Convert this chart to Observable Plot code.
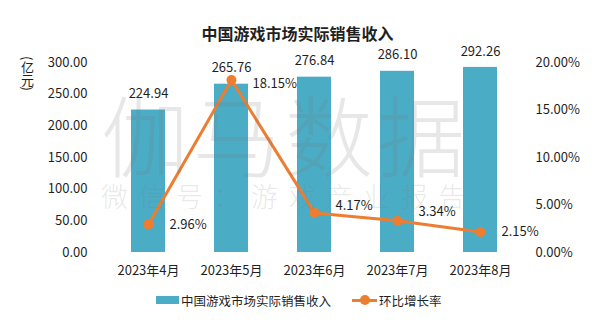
<!DOCTYPE html>
<html>
<head>
<meta charset="utf-8">
<script src="https://cdn.jsdelivr.net/npm/d3@7"></script>
<script src="https://cdn.jsdelivr.net/npm/@observablehq/plot@0.6"></script>
<style>
  html, body { margin: 0; padding: 0; background: #fff; }
  #wrap { position: relative; width: 597px; height: 329px; overflow: hidden;
          font-family: "Noto Sans CJK SC", "Noto Sans", sans-serif; color: #1f1f1f; }
  #title { position: absolute; left: 0; width: 595px; top: 23px; line-height: 20px;
           text-align: center; font-size: 16px; font-weight: bold; }
  #ylabel { position: absolute; left: 19px; top: 56px; writing-mode: vertical-rl;
            font-size: 13px; line-height: 16px; }
  #chart { position: absolute; left: 0; top: 35px; }
  .wm { position: absolute; white-space: nowrap; color: rgba(120,120,120,0.18);
        font-weight: 300; pointer-events: none; }
  #wm1 { left: 101px; top: 82px; font-size: 88px; line-height: 100px; letter-spacing: 4px; }
  #wm2 { left: 101px; top: 180px; font-size: 27px; line-height: 32px; letter-spacing: 10.5px; }
  #legend { position: absolute; top: 292px; left: 156px; height: 16px; display: flex;
            align-items: center; font-size: 12.5px; white-space: nowrap; }
  .sw-bar { width: 23px; height: 8px; background: #4BACC6; margin-right: 2px; }
  .sw-line { position: relative; width: 25px; height: 10px; margin-left: 21px; margin-right: 2px; }
  .sw-line::before { content: ""; position: absolute; left: 0; right: 0; top: 3.5px; height: 3px; background: #ED7D31; }
  .sw-line::after { content: ""; position: absolute; left: 7.5px; top: 0; width: 10px; height: 10px; border-radius: 50%; background: #ED7D31; }
</style>
</head>
<body>
<div id="wrap">
  <div id="title"></div>
  <div id="ylabel"></div>
  <div id="chart"></div>
  <div id="wm1" class="wm">伽马数据</div>
  <div id="wm2" class="wm">微信号：游戏产业报告</div>
  <div id="legend"></div>
</div>
<script>
// ---- data ----
const titleText = "中国游戏市场实际销售收入";
const yUnit = "(亿元)";
const months = ["2023年4月", "2023年5月", "2023年6月", "2023年7月", "2023年8月"];
const revenue = [224.94, 265.76, 276.84, 286.10, 292.26];
const growth = [2.96, 18.15, 4.17, 3.34, 2.15];
const leftTicks = [0, 50, 100, 150, 200, 250, 300];
const rightTicks = [0, 5, 10, 15, 20];
const seriesNames = ["中国游戏市场实际销售收入", "环比增长率"];

// ---- styling ----
const barColor = "#4BACC6";
const lineColor = "#ED7D31";
const textColor = "#1f1f1f";
const labelDy = [0, 4, -7, -9, 0];

document.getElementById("title").textContent = titleText;
document.getElementById("ylabel").textContent = yUnit;
document.getElementById("legend").innerHTML =
  `<div class="sw-bar"></div><span>${seriesNames[0]}</span><div class="sw-line"></div><span>${seriesNames[1]}</span>`;

const rows = months.map((m, i) => ({month: m, revenue: revenue[i], growth: growth[i]}));
// secondary axis: 0–20% mapped onto the 0–300 revenue domain
const y2 = d3.scaleLinear([0, 20], [0, 300]);

const chart = Plot.plot({
  width: 597,
  height: 255,
  marginTop: 27,
  marginBottom: 38,
  marginLeft: 104,
  marginRight: 74,
  style: {fontFamily: '"Noto Sans CJK SC", "Noto Sans", sans-serif', fontSize: "13px", color: textColor, background: "transparent"},
  x: {domain: months, range: [130, 498], paddingInner: 0.593, paddingOuter: 0, label: null},
  y: {domain: [0, 300], label: null},
  marks: [
    Plot.barY(rows, {x: "month", y: "revenue", fill: barColor}),
    Plot.text(rows, {x: "month", y: "revenue", text: d => d.revenue.toFixed(2), dy: -16, fill: textColor, fontSize: 13}),
    Plot.line(rows, {x: "month", y: d => y2(d.growth), stroke: lineColor, strokeWidth: 3}),
    Plot.dot(rows, {x: "month", y: d => y2(d.growth), r: 5, fill: lineColor}),
    ...rows.map((r, i) => Plot.text([r], {x: "month", y: d => y2(d.growth), text: d => d.growth.toFixed(2) + "%",
      textAnchor: "start", dx: 21, dy: labelDy[i], fill: textColor, fontSize: 13})),
    Plot.axisY(leftTicks, {anchor: "left", tickSize: 0, tickPadding: 17, tickFormat: d => d.toFixed(2), fontSize: 13, label: null}),
    Plot.axisY(rightTicks.map(y2), {anchor: "right", tickSize: 0, tickPadding: 12, tickFormat: d => y2.invert(d).toFixed(2) + "%", fontSize: 13, label: null}),
    Plot.axisX({tickSize: 0, tickPadding: 13, fontSize: 13, label: null})
  ]
});
document.getElementById("chart").appendChild(chart);
</script>
</body>
</html>
